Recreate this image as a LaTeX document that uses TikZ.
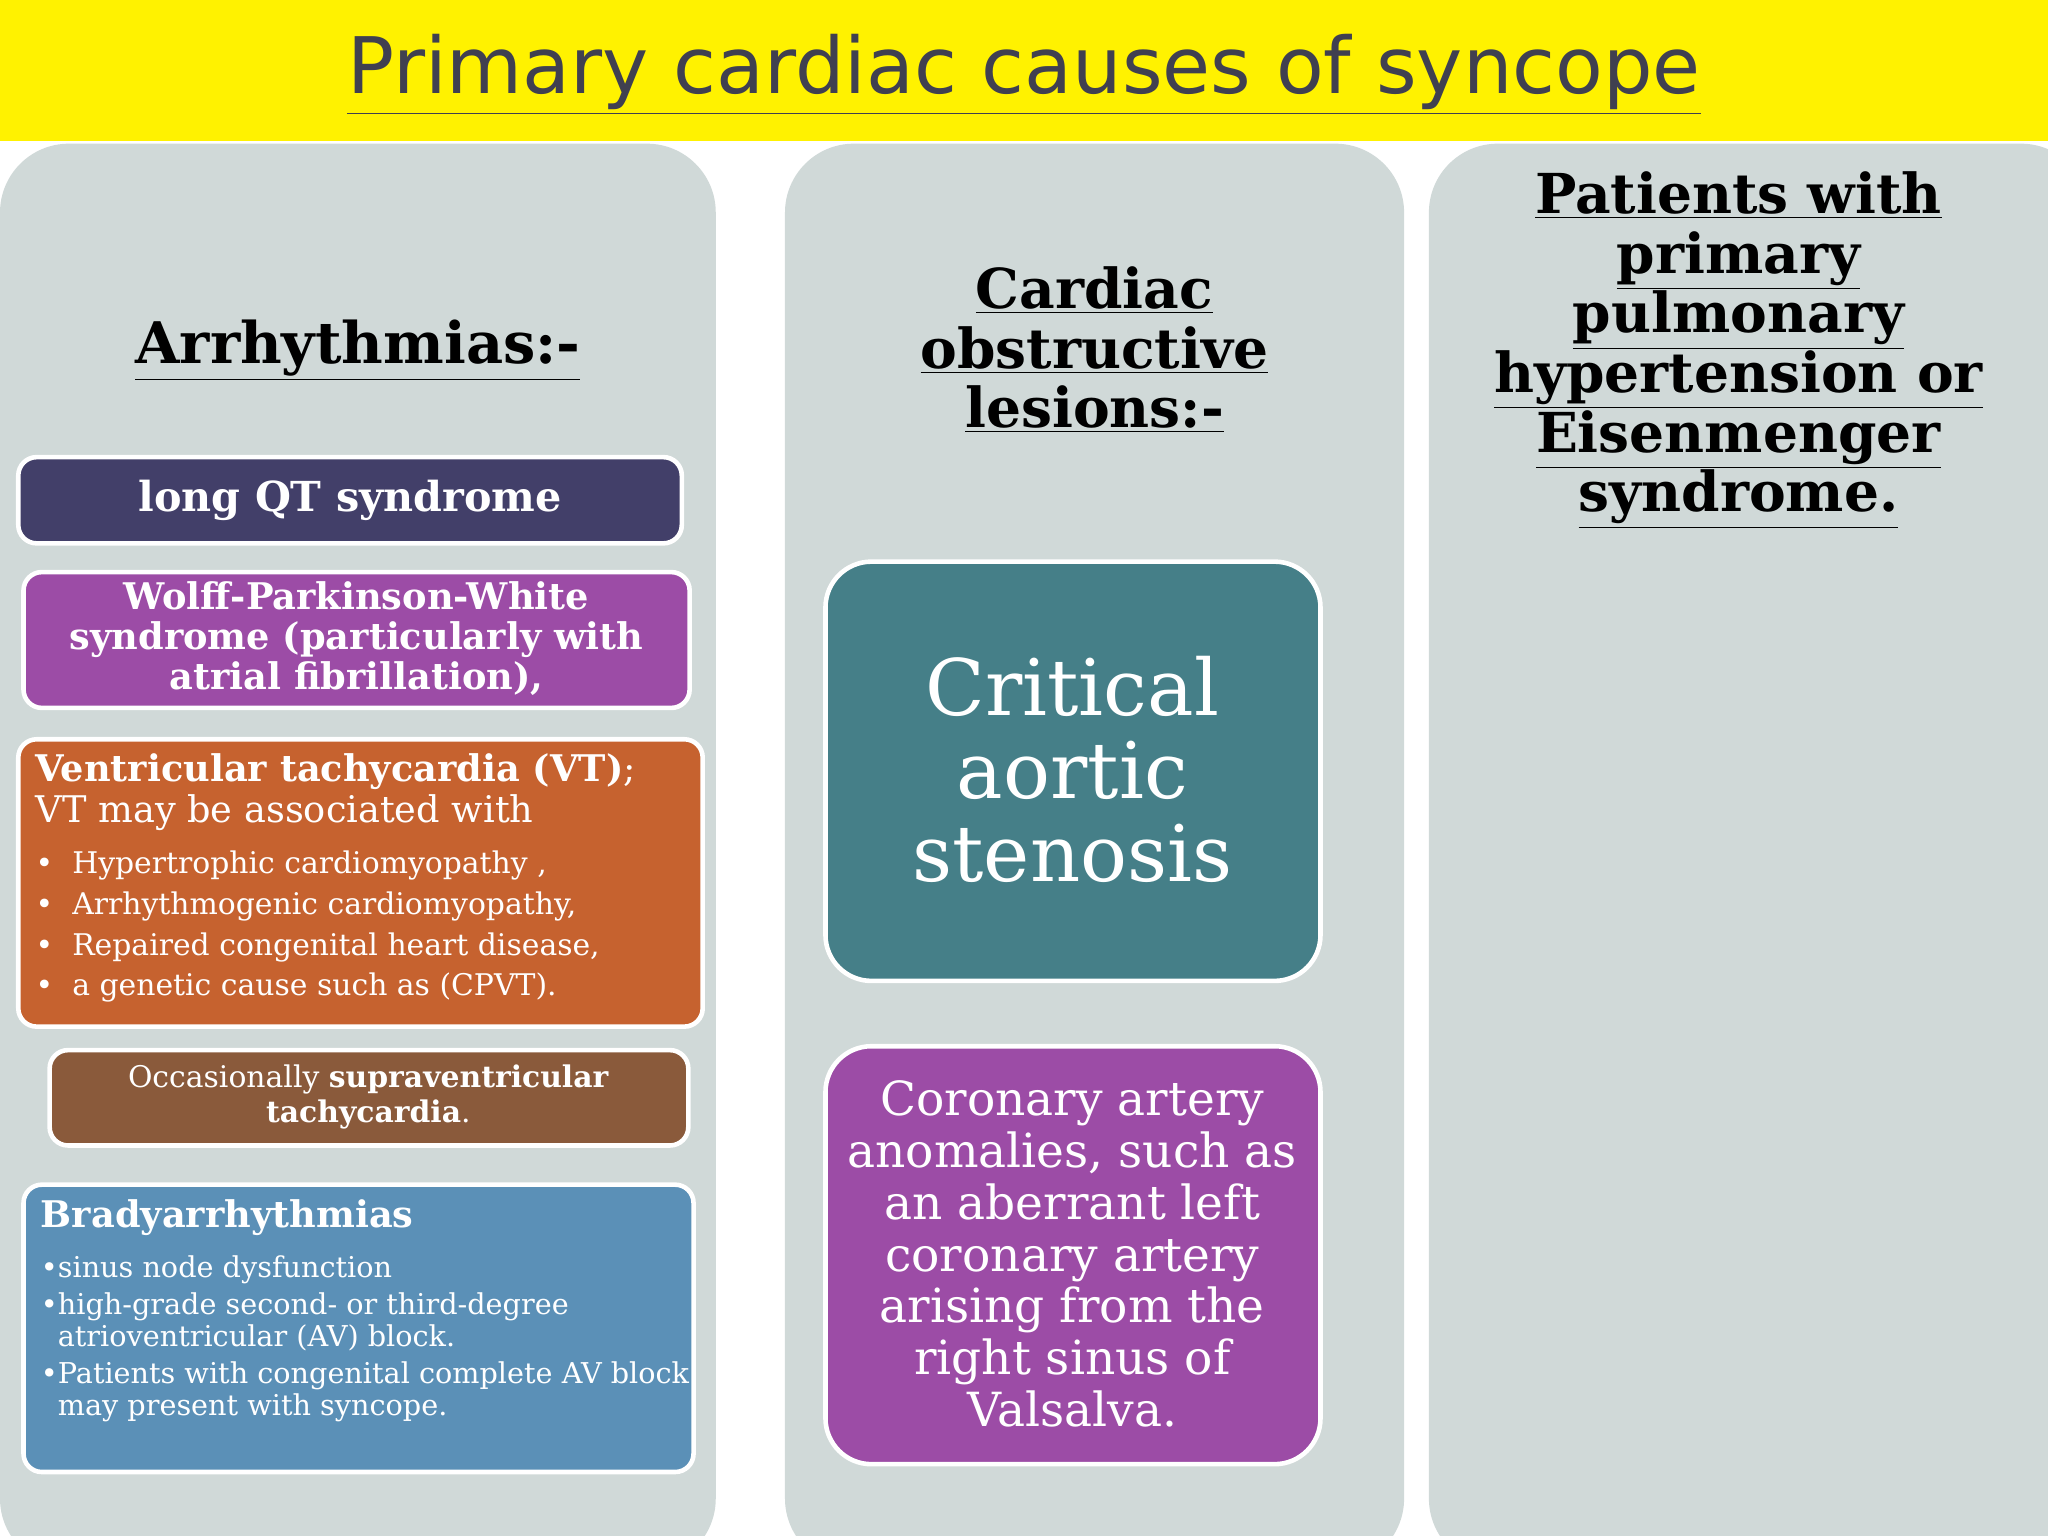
\documentclass[tikz,border=0pt]{standalone}
\usepackage{fontspec}
\setmainfont{DejaVu Serif}
\newfontfamily\ttl{DejaVu Sans}
\begin{document}
\begin{tikzpicture}[x=0.02cm,y=-0.02cm,
 col/.style={fill=colbg,rounded corners=30pt},
 box/.style={draw=white,line width=2pt,rounded corners=8pt},
 wt/.style={text=white,align=center,inner sep=0}]
\definecolor{colbg}{HTML}{D0D9D8}
\definecolor{qt}{HTML}{423F69}
\definecolor{pur}{HTML}{9C4CA6}
\definecolor{org}{HTML}{C6622F}
\definecolor{brn}{HTML}{8A5A3B}
\definecolor{blu}{HTML}{5B90B7}
\definecolor{teal}{HTML}{457F88}
\definecolor{ttc}{HTML}{404050}
\useasboundingbox (0,0) rectangle (1568,1176);
\fill[white] (0,0) rectangle (1568,1176);
\fill[yellow] (0,0) rectangle (1568,108);
\node[text=ttc,font=\ttl\fontsize{34}{40}\selectfont] (title) at (784,57) {\underline{Primary cardiac causes of syncope}};
\fill[col] (0,110) rectangle (548,1200);
\fill[col] (601,110) rectangle (1075,1200);
\fill[col] (1094,110) rectangle (1600,1200);
\node[font=\bfseries\fontsize{25}{28}\selectfont] (h1) at (274,268) {\underline{Arrhythmias:-}};
\node[align=center,font=\bfseries\fontsize{24}{26}\selectfont] (h2) at (838,268) {\underline{Cardiac}\\\underline{obstructive}\\\underline{lesions:-}};
\node[align=center,font=\bfseries\fontsize{24}{26}\selectfont] (h3) at (1331,268) {\underline{Patients with}\\\underline{primary}\\\underline{pulmonary}\\\underline{hypertension or}\\\underline{Eisenmenger}\\\underline{syndrome.}};
\draw[box,fill=qt] (14,350) rectangle (522,416);
\node[wt,font=\bfseries\fontsize{18}{20}\selectfont] (qtx) at (268,383) {long QT syndrome};
\draw[box,fill=pur] (18,438) rectangle (528,542);
\node[wt,font=\bfseries\fontsize{16}{17.5}\selectfont] (wpw) at (273,489) {Wolff-Parkinson-White\\syndrome (particularly with\\atrial fibrillation),};
\draw[box,fill=org] (14,566) rectangle (538,786);
\node[wt,align=left,anchor=north west,font=\fontsize{16}{17.5}\selectfont] (vt) at (27,577) {\textbf{Ventricular tachycardia (VT)};\\VT may be associated with};
\node[wt,align=left,anchor=north west,font=\fontsize{13}{17.8}\selectfont] (vtl) at (27,651) {• \ Hypertrophic cardiomyopathy ,\\• \ Arrhythmogenic cardiomyopathy,\\• \ Repaired congenital heart disease,\\• \ a genetic cause such as (CPVT).};
\draw[box,fill=brn] (38,804) rectangle (527,877);
\node[wt,font=\fontsize{13}{15}\selectfont] (sv) at (282,840) {Occasionally \textbf{supraventricular}\\\textbf{tachycardia}.};
\draw[box,fill=blu] (18,907) rectangle (531,1127);
\node[wt,align=left,anchor=north west,font=\bfseries\fontsize{16}{18}\selectfont] (br) at (31,918) {Bradyarrhythmias};
\node[wt,align=left,anchor=north west,font=\fontsize{12.5}{14}\selectfont] (brl) at (31,961) {•sinus node dysfunction\\[2pt]•high-grade second- or third-degree\\\phantom{•}atrioventricular (AV) block.\\[2pt]•Patients with congenital complete AV block\\\phantom{•}may present with syncope.};
\draw[box,fill=teal,rounded corners=20pt] (632,430) rectangle (1011,751);
\node[wt,font=\fontsize{34}{36}\selectfont] (cas) at (821,589) {Critical\\aortic\\stenosis};
\draw[box,fill=pur,rounded corners=20pt] (632,801) rectangle (1011,1121);
\node[wt,font=\fontsize{20.5}{22.6}\selectfont] (cor) at (821,960) {Coronary artery\\anomalies, such as\\an aberrant left\\coronary artery\\arising from the\\right sinus of\\Valsalva.};
\end{tikzpicture}
\end{document}
